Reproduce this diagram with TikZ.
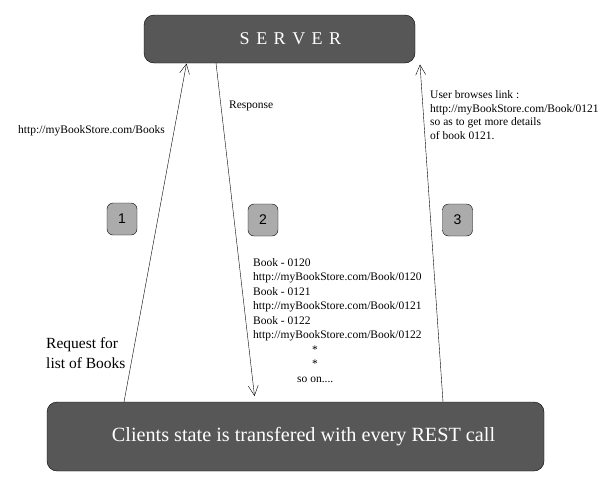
\documentclass[tikz,border=0pt]{standalone}
\usepackage{fontspec}
\setmainfont{Liberation Serif}
\newfontfamily\digitfont{Liberation Sans}
\usetikzlibrary{arrows.meta}
\tikzset{
  bigbox/.style={draw=black, fill=black!66, rounded corners=10pt, text=white, inner sep=0pt},
  stepno/.style={draw=black, fill=black!33, rounded corners=6pt, minimum width=30pt, minimum height=32pt, inner sep=0pt, font=\digitfont\fontsize{14}{16}\selectfont},
  msg/.style={draw=black, -{Straight Barb[length=10pt,width=10pt]}},
  note/.style={align=left, inner sep=0pt, font=\fontsize{11.5}{14.5}\selectfont}
}
\begin{document}
\begin{tikzpicture}[x=1pt,y=-1pt]
  \useasboundingbox (0,0) rectangle (600,480);
  % boxes
  \node[bigbox, minimum width=271pt, minimum height=48pt, font=\fontsize{18}{20}\selectfont] (server) at (279.5,39) {\hspace*{22pt}S\hspace{6.5pt}E\hspace{6.5pt}R\hspace{6.5pt}V\hspace{6.5pt}E\hspace{6.5pt}R};
  \node[bigbox, minimum width=497pt, minimum height=69pt, font=\fontsize{20.2}{22}\selectfont] (client) at (295.5,436.5) {\hspace*{16pt}Clients state is transfered with every REST call};
  % end points on the boxes
  \coordinate (req1) at (124,402);
  \coordinate (req2) at (186.5,63.5);
  \coordinate (res1) at (216,63);
  \coordinate (res2) at (254.5,396);
  \coordinate (nav1) at (443,402);
  \coordinate (nav2) at (420,64.5);
  % calls
  \draw[msg] (req1) -- (req2);
  \draw[msg] (res1) -- (res2);
  \draw[msg] (nav1) -- (nav2);
  % step numbers
  \node[stepno] (s1) at (122,219) {1};
  \node[stepno] (s2) at (263,220) {2};
  \node[stepno] (s3) at (457.5,220) {3};
  % labels
  \node[note, anchor=west] (url) at (18,131) {http://myBookStore.com/Books};
  \node[note, anchor=west] (resp) at (229,106) {Response};
  \node[note, anchor=north west, font=\fontsize{11.5}{13.5}\selectfont] (browse) at (430,90.5) {User browses link :\\http://myBookStore.com/Book/0121\\so as to get more details\\of book 0121.};
  \node[note, anchor=north west] (books) at (253,258) {Book - 0120\\http://myBookStore.com/Book/0120\\Book - 0121\\http://myBookStore.com/Book/0121\\Book - 0122\\http://myBookStore.com/Book/0122\\\hspace*{59pt}*\\\hspace*{59pt}*\\\hspace*{44pt}so on....};
  \node[note, anchor=north west, font=\fontsize{15.5}{20}\selectfont] (request) at (46,337.5) {Request for\\list of Books};
\end{tikzpicture}
\end{document}
